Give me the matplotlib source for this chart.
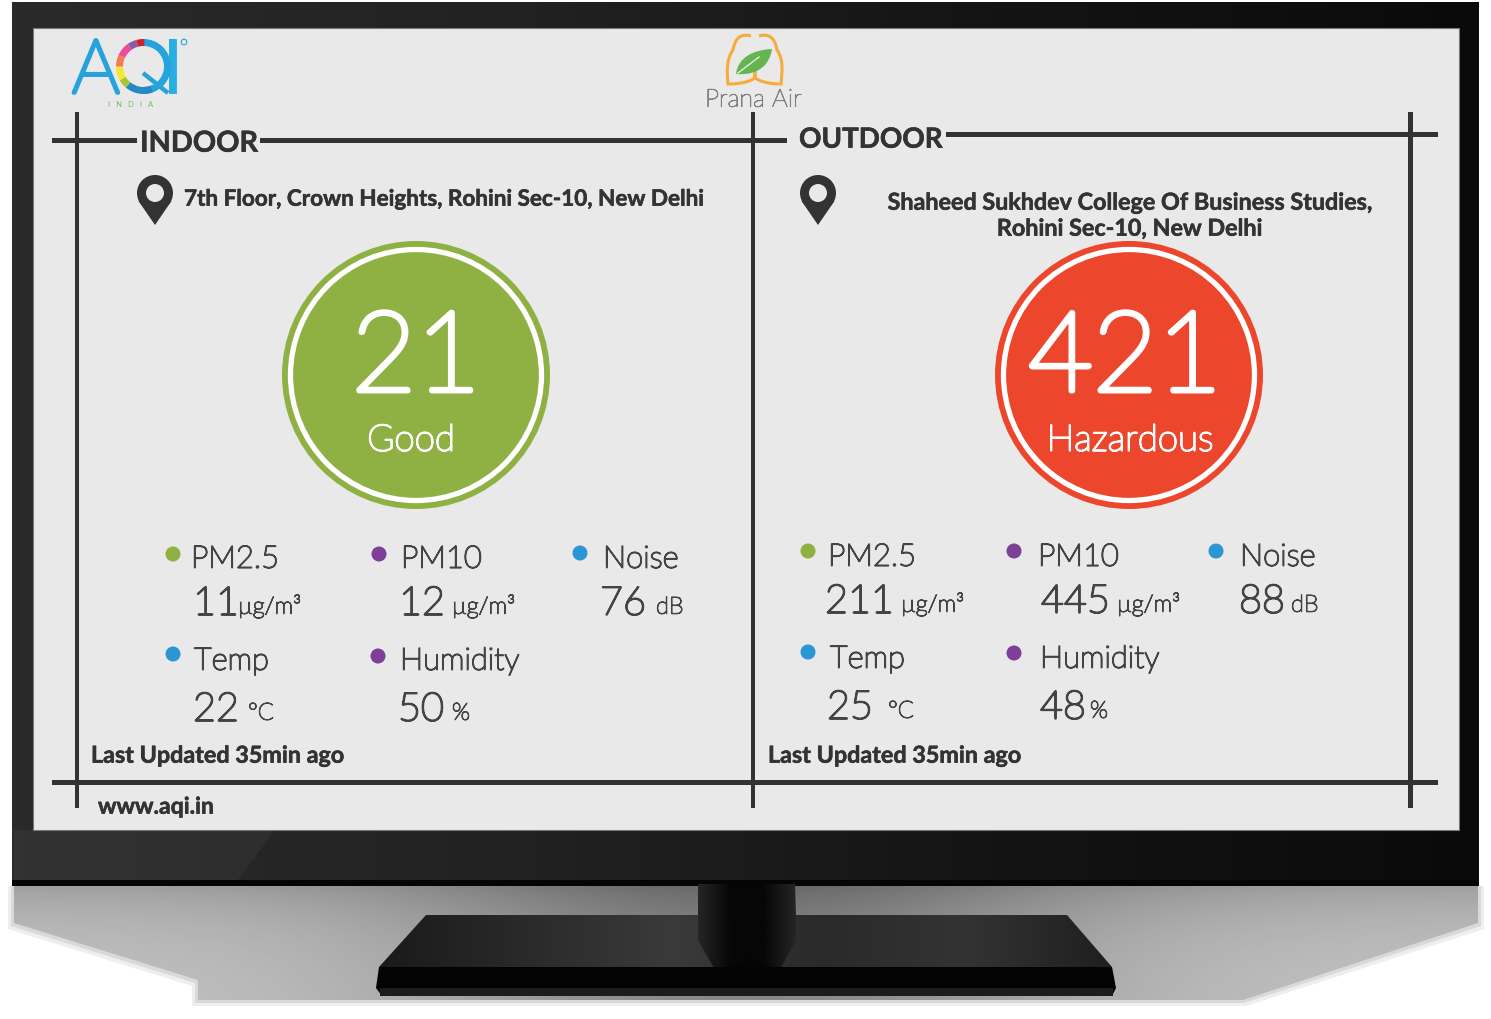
#AQI monitor dashboard: indoor and outdoor panels drawn on a TV screen
import numpy as np
import matplotlib
matplotlib.use('Agg')
import matplotlib.pyplot as plt
import matplotlib.patheffects as pe
from matplotlib.patches import Circle, Polygon, Rectangle, PathPatch, Wedge
from matplotlib.path import Path

#Panel data
panel_titles = ['INDOOR', 'OUTDOOR']
aqi_values = ['21', '421']
aqi_status = ['Good', 'Hazardous']
indoor_address = '7th Floor, Crown Heights, Rohini Sec-10, New Delhi'
outdoor_address = ['Shaheed Sukhdev College Of Business Studies,', 'Rohini Sec-10, New Delhi']
updated_text = 'Last Updated 35min ago'
site_text = 'www.aqi.in'
metric_names = ['PM2.5', 'PM10', 'Noise', 'Temp', 'Humidity']
metric_units = ['µg/m³', 'µg/m³', 'dB', '°C', '%']
indoor_values = ['11', '12', '76', '22', '50']
outdoor_values = ['211', '445', '88', '25', '48']

#Colours
DARK = '#333333'
GREEN = '#8fb143'
RED = '#ec472d'
METRIC_COLORS = ['#8fb143', '#7d3f98', '#2a97d4', '#2a97d4', '#7d3f98']
SCREEN = '#e9e9e9'

plt.rcParams['font.family'] = ['Lato', 'DejaVu Sans']
fig = plt.figure(figsize=(14.91, 10.2), dpi=100)
ax = fig.add_axes([0, 0, 1, 1])
ax.set_xlim(0, 1491)
ax.set_ylim(1019, -1)
ax.axis('off')


def gradient(colors, box, clip=None, zorder=1):
    #horizontal colour ramp, clipped to a polygon
    vals = np.linspace(0, 1, 256)
    stops = np.linspace(0, 1, len(colors))
    rgb = np.array([matplotlib.colors.to_rgb(c) for c in colors])
    img = np.stack([np.interp(vals, stops, rgb[:, i]) for i in range(3)], axis=-1)[None, :, :]
    im = ax.imshow(img, extent=(box[0], box[2], box[3], box[1]), aspect='auto', zorder=zorder)
    if clip is not None:
        patch = Polygon(clip, closed=True, transform=ax.transData, fc='none', ec='none')
        ax.add_patch(patch)
        im.set_clip_path(patch)
    return im


def put(x, y, s, size, color=DARK, weight='normal', ha='left', z=6, grow=None):
    #the light text is Lato hairline thickened with a stroke
    t = ax.text(x, y + 0.7, s, fontsize=size, color=color, fontweight=weight, ha=ha, va='baseline', zorder=z)
    if grow is None:
        grow = 0.4 if weight == 'bold' else 0.05 * size if weight == 'light' else 0
    if grow:
        t.set_path_effects([pe.withStroke(linewidth=grow, foreground=color)])
    return t


def pin(cx, cy):
    #map pin: round head, pointed bottom, round hole
    ax.add_patch(Circle((cx, cy), 18, fc=DARK, ec='none', zorder=5))
    ax.add_patch(Polygon([(cx - 16.5, cy + 8), (cx + 16.5, cy + 8), (cx, cy + 32)], fc=DARK, ec='none', zorder=5))
    ax.add_patch(Circle((cx, cy), 9, fc=SCREEN, ec='none', zorder=6))


def hline(x0, x1, y):
    ax.add_patch(Rectangle((x0, y - 2.5), x1 - x0, 5, fc=DARK, ec='none', zorder=4))


def vline(x, y0, y1):
    ax.add_patch(Rectangle((x - 2.2, y0), 4.4, y1 - y0, fc=DARK, ec='none', zorder=4))


def gauge(cx, cy, color, value, status, num_x, status_x):
    ax.add_patch(Circle((cx, cy), 134, fc=color, ec='none', zorder=3))
    ax.add_patch(Circle((cx, cy), 125.5, fc='none', ec='white', lw=3.8, zorder=4))
    put(num_x, cy + 15, value, 80, 'white', 'light', 'center')
    put(status_x, cy + 75, status, 26.5, 'white', 'light', 'center')


def metrics(values, layout):
    for i, (dot, label, val, unit_x) in enumerate(layout):
        ax.add_patch(Circle(dot, 7.5, fc=METRIC_COLORS[i], ec='none', zorder=5))
        put(label[0], label[1], metric_names[i], 22.3, '#444444', 'light')
        put(val[0] - 1, val[1], values[i], 28.5, '#444444', 'light')
        put(unit_x, val[1] - 1, metric_units[i], 17, '#444444', 'light')


#Shadow below the monitor, soft edge then the shaded body
shadow = [(14, 886), (1478, 886), (1478, 923), (1243, 1000), (198, 1000), (198, 980), (14, 923)]
for grow, alpha in ((6, 0.2), (3, 0.3)):
    outer = [(14 - grow, 886), (1478 + grow, 886), (1478 + grow, 923 + grow), (1243 + grow // 2, 1000 + grow),
             (198 - grow, 1000 + grow), (198 - grow, 980 + grow), (14 - grow, 923 + grow)]
    ax.add_patch(Polygon(outer, fc='#aaaaaa', alpha=alpha, ec='none', zorder=0.5))
gx, gy = np.meshgrid(np.linspace(10, 1480, 300), np.linspace(886, 1000, 80))
shade = 0.76 - 0.22 * np.exp(-((gx - 745) / 340) ** 2) - 0.13 * np.exp(-(gy - 886) / 40)
shade_im = ax.imshow(shade, cmap='gray', vmin=0, vmax=1, extent=(10, 1480, 1000, 886), aspect='auto', zorder=1)
shadow_clip = Polygon(shadow, closed=True, transform=ax.transData, fc='none', ec='none')
ax.add_patch(shadow_clip)
shade_im.set_clip_path(shadow_clip)

#Stand
neck = [(698, 884), (795, 884), (796, 915), (796, 940), (781, 968), (714, 968), (698, 940)]
base_top = [(426, 915), (1067, 915), (1112, 967), (379, 967)]
base_front = [(379, 967), (1112, 967), (1116, 988), (1112, 996), (382, 996), (376, 988)]
gradient(['#1a1a1a', '#2a2a2a', '#3a3a3a', '#2a2a2a', '#333333', '#1f1f1f'],
         (379, 915, 1112, 967), base_top, zorder=2)
gradient(['#262626', '#060606', '#060606', '#262626'], (698, 884, 796, 968), neck, zorder=3)
ax.add_patch(Polygon(base_front, fc='#030303', ec='none', zorder=3))
ax.add_patch(Rectangle((380, 988), 733, 8, fc='#1c1c1c', ec='none', zorder=3))

#Monitor body and screen
body = [(12, 2), (1479, 2), (1479, 886), (12, 886)]
gradient(['#2a2a2a', '#222222', '#141414', '#0a0a0a'], (12, 2, 1479, 886), body, zorder=2)
ax.add_patch(Polygon([(14, 830), (275, 830), (238, 880), (14, 880)], fc='#ffffff', alpha=0.04, ec='none', zorder=2.5))
ax.add_patch(Rectangle((12, 880), 1467, 6, fc='#050505', ec='none', zorder=2.5))
ax.add_patch(Rectangle((33, 28), 1426, 802, fc=SCREEN, ec='#777777', lw=0.8, zorder=2.6))

#AQI logo, the ring is the letter Q
put(72, 92, 'A', 54, '#27a3dc', 'light', grow=3.0)
put(162, 92, 'I', 54, '#27aee3', 'normal', grow=0.6)
ring_colors = ['#2688c4', '#a9c52f', '#f2ea30', '#f47b54', '#ee4a9a', '#8e58a5', '#cf2030']
ring_edges = [70, 130, 150, 180, 205, 235, 255, 272]
ax.add_patch(Wedge((143.5, 66.5), 27.5, -90, 90, width=7, fc='#27a3dc', ec='none', zorder=6))
for k, c in enumerate(ring_colors):
    ax.add_patch(Wedge((143.5, 66.5), 27.5, ring_edges[k], ring_edges[k + 1], width=7, fc=c, ec='none', zorder=6))
ax.plot([143, 168], [73, 93], color='#27a3dc', lw=3.2, zorder=6, solid_capstyle='butt')
ax.add_patch(Circle((184, 42), 2.8, fc='none', ec='#27a3dc', lw=0.8, zorder=6))
put(108, 105, 'I   N   D   I   A', 5.5, '#6fbf5a', 'normal')

#Prana Air logo
lung_l = Path([(751, 36), (741, 33), (735, 38), (733, 50), (726, 60), (727, 72), (728, 84), (745, 84), (752, 80), (755, 78), (755, 70)],
              [Path.MOVETO] + [Path.CURVE4] * 9 + [Path.LINETO])
lung_r = Path([(759, 36), (769, 33), (775, 38), (777, 50), (784, 60), (782, 72), (781, 84), (765, 84), (758, 80), (755, 78), (755, 70)],
              [Path.MOVETO] + [Path.CURVE4] * 9 + [Path.LINETO])
for lung in (lung_l, lung_r):
    ax.add_patch(PathPatch(lung, fc='none', ec='#f6ab3c', lw=2.2, zorder=6))
leaf = Path([(736, 74), (738, 58), (752, 50), (772, 49), (770, 63), (760, 76), (736, 74)],
            [Path.MOVETO] + [Path.CURVE4] * 6)
ax.add_patch(PathPatch(leaf, fc='#62b54f', ec='none', zorder=6))
ax.plot([738, 759], [73, 57], color=SCREEN, lw=1, zorder=7)
put(705, 106, 'Prana Air', 18, '#7f7f7f', 'light', grow=0.6)

#Frame lines
hline(52, 137, 140)
hline(260, 787, 140)
hline(946, 1438, 134)
hline(52, 1438, 782)
vline(77, 112, 808)
vline(753, 112, 808)
vline(1410.5, 112, 808)

#Indoor panel
put(140, 151, panel_titles[0], 20.8, DARK, 'bold')
pin(155, 193)
put(184, 205, indoor_address, 16.2, DARK, 'bold')
gauge(416, 375, GREEN, aqi_values[0], aqi_status[0], 416, 411)
indoor_layout = [((173, 554), (191, 567), (194, 614), 238),
                 ((379, 554), (401, 567), (400, 614), 452),
                 ((580, 553), (603, 567), (601, 614), 656),
                 ((173, 654), (194, 669), (194, 720), 248),
                 ((378, 656), (400, 669), (399, 720), 452)]
metrics(indoor_values, indoor_layout)
put(91, 762, updated_text, 16.8, DARK, 'bold')

#Outdoor panel
put(799, 147, panel_titles[1], 20, DARK, 'bold')
pin(818, 193)
put(1130, 209, outdoor_address[0], 16.8, DARK, 'bold', 'center')
put(1130, 235, outdoor_address[1], 16.8, DARK, 'bold', 'center')
gauge(1129, 375, RED, aqi_values[1], aqi_status[1], 1125, 1130)
outdoor_layout = [((808, 551), (828, 565), (826, 612), 901),
                  ((1014, 551), (1038, 565), (1042, 612), 1117),
                  ((1216, 551), (1240, 565), (1240, 612), 1291),
                  ((808, 652), (830, 667), (828, 718), 888),
                  ((1014, 653), (1040, 667), (1041, 718), 1090)]
metrics(outdoor_values, outdoor_layout)
put(768, 762, updated_text, 16.8, DARK, 'bold')
put(98, 813, site_text, 16.6, DARK, 'bold')

fig.savefig('out.png', dpi=100, facecolor='white')
